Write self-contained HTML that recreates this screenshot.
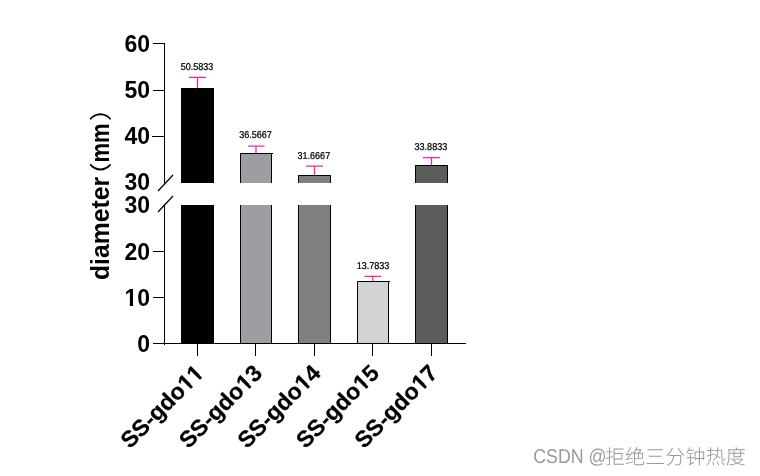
<!DOCTYPE html>
<html><head><meta charset="utf-8"><title>chart</title>
<style>
html,body{margin:0;padding:0;background:#fff;}
body{width:760px;height:476px;overflow:hidden;position:relative;font-family:"Liberation Sans","Noto Sans CJK SC",sans-serif;}
svg{position:absolute;left:0;top:0;display:block;}
.ax{stroke:#000;stroke-width:1;fill:none;}
.yl{font:bold 23px "Liberation Sans",sans-serif;fill:#000;text-anchor:end;}
.xl{font:bold 23px "Liberation Sans",sans-serif;fill:#000;text-anchor:end;font-kerning:none;stroke:#000;stroke-width:0.25;}
.vl{font:20px "Liberation Sans",sans-serif;fill:#000;text-anchor:middle;stroke:#000;stroke-width:0.5;text-rendering:geometricPrecision;}
.eb{stroke:#ff2093;stroke-width:1.25;fill:none;}
</style></head>
<body>
<svg width="760" height="476" viewBox="0 0 760 476">
<!-- bars -->
<g>
<rect x="181" y="88" width="33" height="95" fill="#000"/>
<rect x="181" y="205" width="33" height="139" fill="#000"/>

<rect x="240" y="153" width="32" height="30" fill="#9e9da1"/>
<path class="ax" d="M240.5 183V153.5H273M271.5 153V183"/>
<rect x="240" y="205" width="32" height="139" fill="#9e9da1"/>
<path class="ax" d="M240.5 205V344M271.5 205V344"/>

<rect x="298" y="175" width="33" height="8" fill="#7f7f7f"/>
<path class="ax" d="M298.5 183V175.5H330.5V183"/>
<rect x="298" y="205" width="33" height="139" fill="#7f7f7f"/>
<path class="ax" d="M298.5 205V344M330.5 205V344"/>

<rect x="357" y="281" width="32" height="63" fill="#d3d3d3"/>
<path class="ax" d="M357.5 344V281.5H390M388.5 281V344"/>

<rect x="415" y="165" width="33" height="18" fill="#5c5c5c"/>
<path class="ax" d="M415.5 183V165.5H447.5V183"/>
<rect x="415" y="205" width="33" height="139" fill="#5c5c5c"/>
<path class="ax" d="M415.5 205V344M447.5 205V344"/>
</g>
<!-- error bars -->
<g class="eb">
<path d="M189 77.3H206M197.5 77V88"/>
<path d="M248 146H264.5M256 146V153"/>
<path d="M306 166H323M314.5 166V175"/>
<path d="M364.5 276.4H381M372.8 276.4V281"/>
<path d="M423 157.5H440M431.5 157V165"/>
</g>
<!-- axes -->
<g class="ax">
<path d="M164.5 43V183M164.5 204V345"/>
<path d="M153 343.5H466"/>
<path d="M153 43.5H165M153 90.5H165M152 136.5H165M153 251.5H165M153 297.5H165"/>
<path d="M158 191L173 175M158 212L173 196" stroke-width="1.2"/>
<path d="M197.5 344V356M255.5 344V356M314.5 344V356M372.5 344V356M431.5 344V356"/>
</g>
<!-- y tick labels -->
<g class="yl">
<text x="150" y="51.5">60</text>
<text x="150" y="97.6">50</text>
<text x="150" y="143.6">40</text>
<text x="150" y="190">30</text>
<text x="150" y="213">30</text>
<text x="150" y="259.5">20</text>
<text x="150" y="305.5">10</text>
<rect x="124" y="302.5" width="5.8" height="4" fill="#fff"/><rect x="133.05" y="302.5" width="4.5" height="4" fill="#fff"/>
<text x="150" y="351.5">0</text>
</g>
<!-- value labels -->
<g class="vl">
<text transform="translate(197,69.6) scale(0.453,0.498)">50.5833</text>
<text transform="translate(255.5,138.1) scale(0.453,0.498)">36.5667</text>
<text transform="translate(313.8,158.6) scale(0.453,0.498)">31.6667</text>
<text transform="translate(373,268.8) scale(0.453,0.498)">13.7833</text>
<text transform="translate(430.9,150.0) scale(0.453,0.498)">33.8833</text>
</g>
<!-- x labels -->
<g class="xl">
<g transform="translate(205.0,374.5) rotate(-45)"><text>SS-gdo11</text><g fill="#fff" stroke="none"><rect x="-25.33" y="-3.25" width="5.22" height="4.35"/><rect x="-17.16" y="-3.25" width="4.93" height="4.35"/><rect x="-12.54" y="-3.25" width="5.22" height="4.35"/><rect x="-4.37" y="-3.25" width="4.93" height="4.35"/></g></g>
<g transform="translate(263.5,374.5) rotate(-45)"><text>SS-gdo13</text><g fill="#fff" stroke="none"><rect x="-25.33" y="-3.25" width="5.22" height="4.35"/><rect x="-17.16" y="-3.25" width="4.93" height="4.35"/></g></g>
<g transform="translate(322.0,374.5) rotate(-45)"><text>SS-gdo14</text><g fill="#fff" stroke="none"><rect x="-25.33" y="-3.25" width="5.22" height="4.35"/><rect x="-17.16" y="-3.25" width="4.93" height="4.35"/></g></g>
<g transform="translate(380.5,374.5) rotate(-45)"><text>SS-gdo15</text><g fill="#fff" stroke="none"><rect x="-25.33" y="-3.25" width="5.22" height="4.35"/><rect x="-17.16" y="-3.25" width="4.93" height="4.35"/></g></g>
<g transform="translate(439.0,374.5) rotate(-45)"><text>SS-gdo17</text><g fill="#fff" stroke="none"><rect x="-25.33" y="-3.25" width="5.22" height="4.35"/><rect x="-17.16" y="-3.25" width="4.93" height="4.35"/></g></g>
</g>
<!-- y title -->
<text transform="translate(109,280) rotate(-90)" style="font:bold 25px 'Liberation Sans','Noto Sans CJK SC',sans-serif;fill:#000"><tspan x="0" y="0" textLength="103" lengthAdjust="spacingAndGlyphs">diameter</tspan><tspan x="91.3" y="-0.3" textLength="26.4" lengthAdjust="spacingAndGlyphs" style="font:400 22.3px 'Noto Sans CJK SC',sans-serif">（</tspan><tspan x="117.5" y="0.3" textLength="39" lengthAdjust="spacingAndGlyphs">mm</tspan><tspan x="158.8" y="-0.3" textLength="26.4" lengthAdjust="spacingAndGlyphs" style="font:400 22.3px 'Noto Sans CJK SC',sans-serif">）</tspan></text>
<!-- watermark -->
<text transform="translate(533.2,463.1)" style="font:20px 'Liberation Sans','Noto Sans CJK SC',sans-serif;fill:#999;text-rendering:geometricPrecision"><tspan textLength="73.3" lengthAdjust="spacingAndGlyphs">CSDN @</tspan><tspan x="71.7" y="0.7" style="font:300 20.15px 'Noto Sans CJK SC',sans-serif">拒绝三分钟热度</tspan></text>
</svg>
</body></html>
